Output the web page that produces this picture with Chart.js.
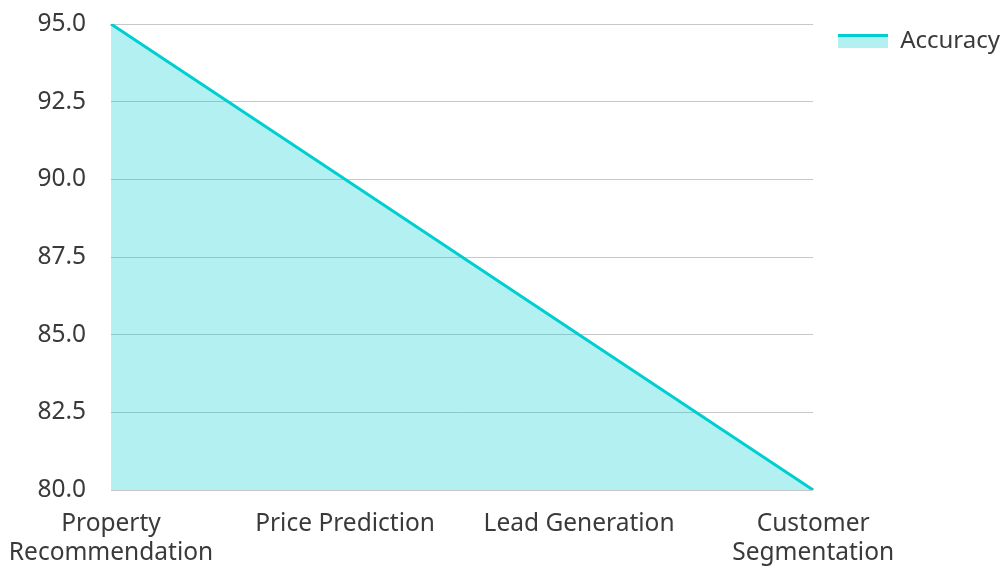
<!DOCTYPE html>
<html><head><meta charset="utf-8">
<script src="https://cdn.jsdelivr.net/npm/chart.js@4/dist/chart.umd.min.js"></script>
<style>html,body{margin:0;padding:0;background:#fff}#wrap{width:1003px;height:566px}</style>
</head><body><div id="wrap"><canvas id="c"></canvas></div>
<script>
const categories = [["Property","Recommendation"],"Price Prediction","Lead Generation",["Customer","Segmentation"]];
const accuracy = [95, 90, 85, 80];
const seriesLabel = "Accuracy";
const yMin = 80, yMax = 95, yStep = 2.5;

const lineColor = '#00CED1', fillColor = 'rgba(0,206,209,0.3)';
const legendIcon = document.createElement('canvas');
legendIcon.width = 50; legendIcon.height = 14;
(function(){
  const g = legendIcon.getContext('2d');
  g.fillStyle = fillColor; g.fillRect(0, 0, 50, 14);
  g.fillStyle = lineColor; g.fillRect(0, 0, 50, 3);
})();

Chart.defaults.font.family = "'Noto Sans', 'Open Sans', sans-serif";
Chart.defaults.font.size = 24.5;
Chart.defaults.color = '#3a3a3a';
new Chart(document.getElementById('c'), {
  type: 'line',
  data: { labels: categories, datasets: [{
    label: seriesLabel, data: accuracy,
    borderColor: lineColor, backgroundColor: fillColor,
    borderWidth: 3, fill: true, pointRadius: 0, tension: 0,
    pointStyle: legendIcon
  }]},
  options: {
    responsive: true, maintainAspectRatio: false, animation: false,
    layout: { padding: { top: 4, right: -7, bottom: 0, left: 4 } },
    plugins: {
      legend: { position: 'right', align: 'start',
        labels: { usePointStyle: true, pointStyleWidth: 50, boxWidth: 50, boxHeight: 14, padding: 25, font: { size: 24 }, color: '#3a3a3a' } },
      tooltip: { enabled: false }
    },
    scales: {
      x: { grid: { display: false, drawTicks: true, tickLength: 16 }, border: { display: false },
        afterFit: s => { s.height = 76; },
        ticks: { padding: 3, color: '#3a3a3a', font: { size: 24.5, lineHeight: 1.2 } } },
      y: { min: yMin, max: yMax, grid: { color: '#c8c8c8', drawTicks: false }, border: { display: false },
        afterFit: s => { s.width = 107; s.paddingTop = 24; s.paddingBottom = 0; },
        ticks: { stepSize: yStep, padding: 25, color: '#3a3a3a', font: { size: 24.5 }, callback: v => v.toFixed(1) } }
    }
  }
});
</script></body></html>
